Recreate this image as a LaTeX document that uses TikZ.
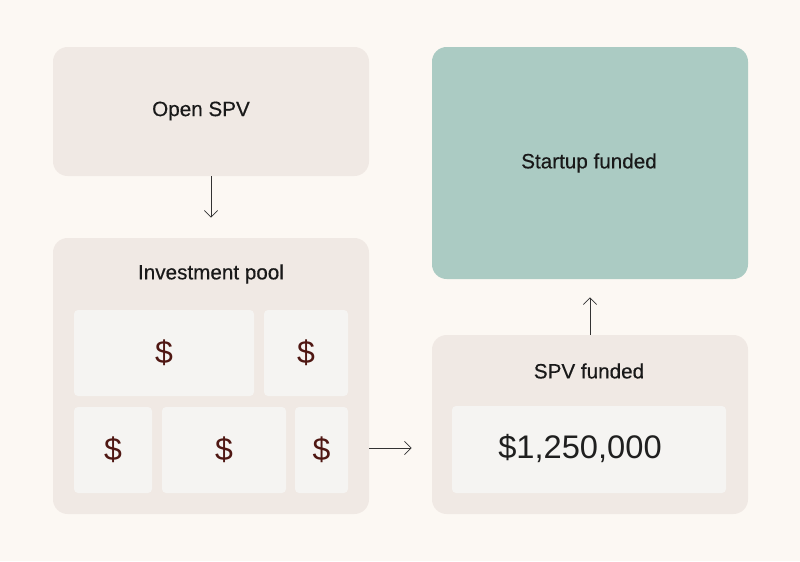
\documentclass[tikz,border=0pt]{standalone}
\usepackage{fontspec}
\setmainfont{Liberation Sans}
\newfontfamily\titlefont[FakeBold=0.45]{Liberation Sans}
\usetikzlibrary{arrows.meta}

\definecolor{bgcream}{HTML}{FCF8F3}
\definecolor{stagefill}{HTML}{F0E9E4}
\definecolor{slotfill}{HTML}{F5F4F2}
\definecolor{donefill}{HTML}{ABCBC3}
\definecolor{dollarred}{HTML}{4F1713}
\definecolor{inkgrey}{HTML}{333333}

\begin{document}
\begin{tikzpicture}[x=0.75pt,y=-0.75pt,
  stage/.style={rectangle, rounded corners=11pt, fill=stagefill, inner sep=0pt, minimum width=237pt},
  slot/.style={rectangle, rounded corners=3pt, fill=slotfill, inner sep=0pt, minimum height=64.5pt,
    text=dollarred, font=\fontsize{24}{28}\selectfont},
  title/.style={font=\titlefont\fontsize{15.5}{18}\selectfont, text=black!90},
  flow/.style={draw=inkgrey, line width=0.6pt, -{Straight Barb[length=5pt,width=10pt]}}]
% background
\fill[bgcream] (0,0) rectangle (800,561);
\useasboundingbox (0,0) rectangle (800,561);
% stages
\node (open) at (211,111.5) [stage, minimum height=96.75pt]{};
\node (pool) at (211,376) [stage, minimum height=207pt]{};
\node (spv) at (590,424.5) [stage, minimum height=134.25pt]{};
\node (startup) at (590,163) [stage, fill=donefill, minimum height=174pt]{};
% titles
\node (openlbl) at (201,111) [title] {Open SPV};
\node (poollbl) at (211,274) [title] {Investment pool};
\node (spvlbl) at (589,371) [title] {SPV funded};
\node (startuplbl) at (589,163) [title] {Startup funded};
% investment slots
\node (s1) at (164,353) [slot, minimum width=135pt] {\$};
\node (s2) at (306,353) [slot, minimum width=63pt] {\$};
\node (s3) at (113,450) [slot, minimum width=58.5pt] {\$};
\node (s4) at (224,450) [slot, minimum width=93pt] {\$};
\node (s5) at (321.5,450) [slot, minimum width=39.75pt] {\$};
% amount
\node (amtbox) at (589,449.5) [slot, minimum width=205.5pt, minimum height=65.25pt]{};
\node (amt) at (580,448) [font=\fontsize{24.5}{28}\selectfont, text=black!88] {\$1,250,000};
% arrows
\draw[flow, shorten >=15pt] (open.south) -- (pool.north);
\draw[flow, shorten >=15pt] (pool.east |- amt.center) -- (spv.west |- amt.center);
\draw[flow, shorten >=13.5pt] (spv.north) -- (startup.south);
\end{tikzpicture}
\end{document}
